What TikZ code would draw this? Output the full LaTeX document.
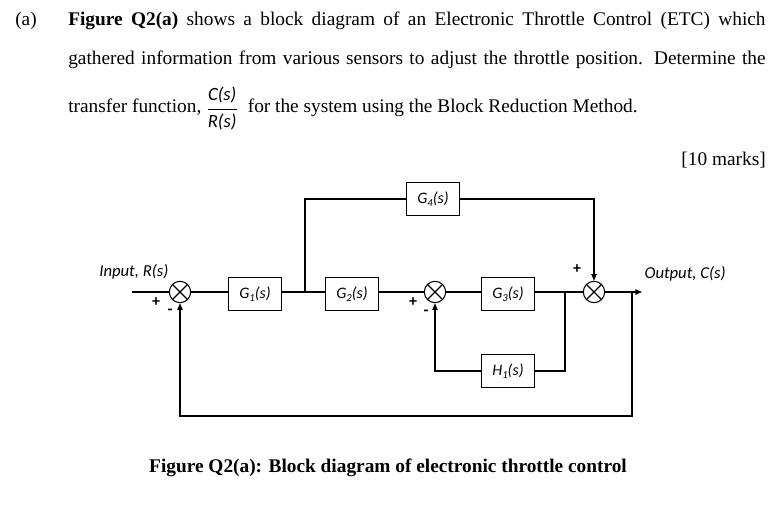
\documentclass[tikz,border=0pt]{standalone}
\usepackage{fontspec}
\setmainfont{Liberation Serif}
\newfontfamily\carl{Carlito}
\usetikzlibrary{arrows.meta}
\newcommand\blab[2]{#1\raisebox{-0.35ex}{\fontsize{8}{9}\selectfont #2}(s)}
\begin{document}
\begin{tikzpicture}[x=0.75pt,y=-0.75pt,
  blk/.style={draw,line width=0.8pt,minimum width=40pt,minimum height=25pt,inner sep=0pt,font=\carl\itshape\fontsize{12}{14}\selectfont},
  sum/.style={draw,circle,line width=0.8pt,minimum size=16pt,inner sep=0pt,path picture={\draw (path picture bounding box.north west)--(path picture bounding box.south east) (path picture bounding box.north east)--(path picture bounding box.south west);}},
  ln/.style={line width=0.8pt},
  ar/.style={line width=0.8pt,-{Triangle[length=5pt,width=4pt]}},
  lab/.style={font=\carl\itshape\fontsize{12.5}{14}\selectfont,inner sep=1pt},
  sg/.style={font=\carl\bfseries\fontsize{12}{14}\selectfont,inner sep=0pt},
  txt/.style={font=\fontsize{14.5}{17}\selectfont,inner sep=0pt,anchor=base west}]
\useasboundingbox (0,0) rectangle (783,517);
% text
\node[txt] (a) at (15,26) {(a)};
\node[txt] (l1) at (68,26) {\makebox[523pt][s]{\textbf{Figure Q2(a)} shows a block diagram of an Electronic Throttle Control (ETC) which}};
\node[txt] (l2) at (68,65) {\makebox[523pt][s]{gathered information from various sensors to adjust the throttle position. Determine the}};
\node[txt] (l3) at (68,113) {transfer function, \raisebox{-0.1ex}{$\displaystyle\frac{\hbox{\carl\itshape\fontsize{14}{15}\selectfont C(s)}}{\hbox{\carl\itshape\fontsize{14}{15}\selectfont R(s)}}$}\ \ for the system using the Block Reduction Method.};
\node[txt,anchor=base east] (mk) at (766,166) {[10 marks]};
\node[txt,anchor=base] (cap) at (388,472) {\textbf{Figure Q2(a): Block diagram of electronic throttle control}};
% blocks
\node[sum] (s1) at (180,292) {};
\node[blk] (g1) at (255,294) {\blab{G}{1}};
\node[blk] (g2) at (352,294) {\blab{G}{2}};
\node[sum] (s2) at (435,292) {};
\node[blk] (g3) at (508,294) {\blab{G}{3}};
\node[sum] (s3) at (594,292) {};
\node[blk] (g4) at (433,199) {\blab{G}{4}};
\node[blk] (h1) at (508,371) {\blab{H}{1}};
\coordinate (in) at (132,292);
\coordinate (out) at (642,292);
\coordinate (b1) at (305,292);
\coordinate (b2) at (565,292);
\coordinate (b3) at (632,292);
% connectors
\draw[ln] (in) -- (s1);
\draw[ln] (s1) -- (g1.west|-s1);
\draw[ln] (g1.east|-s1) -- (g2.west|-s1);
\draw[ln] (g2.east|-s1) -- (s2);
\draw[ln] (s2) -- (g3.west|-s1);
\draw[ln] (g3.east|-s1) -- (s3);
\draw[ar] (s3) -- (out);
\draw[ln] (b1) |- (g4.west|-0,199);
\draw[ar] (g4.east|-0,199) -| (s3.north);
\draw[ln] (b2) |- (h1.east|-0,371);
\draw[ar] (h1.west|-0,371) -| (s2.south);
\draw[ar] (b3) |- (180,416) -- (s1.south);
% labels
\node[lab,anchor=south east] (li) at (170,281) {Input, R(s)};
\node[lab,anchor=south west] (lo) at (643,283) {Output, C(s)};
\node[sg] (p1) at (156,302) {+};
\node[sg] (m1) at (170,312) {-};
\node[sg] (p2) at (413,302) {+};
\node[sg] (m2) at (426,313) {-};
\node[sg] (p3) at (577,269) {+};
\end{tikzpicture}
\end{document}
